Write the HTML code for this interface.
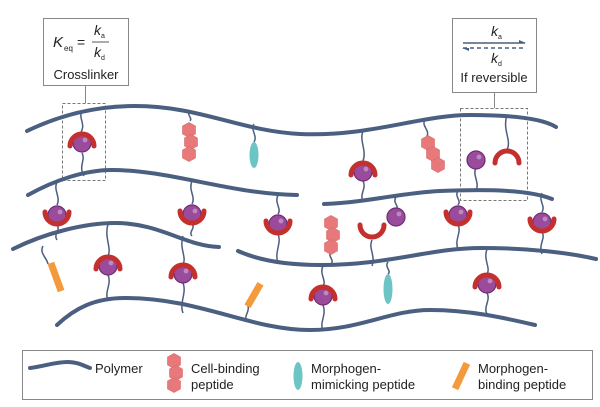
<!DOCTYPE html>
<html><head><meta charset="utf-8"><style>
html,body{margin:0;padding:0;background:#fff;}
svg{display:block;font-family:"Liberation Sans",sans-serif;}
</style></head><body>
<svg width="600" height="407" viewBox="0 0 600 407" xmlns="http://www.w3.org/2000/svg">
<defs>
<g id="ball"><circle r="9" fill="#9a4b9c" stroke="#6e2b72" stroke-width="1.2"/><circle cx="3" cy="-3" r="2.4" fill="#fff" opacity="0.35"/></g>
<path id="capA" d="M-12,3 A12 12 0 0 1 12,3" fill="none" stroke="#c3302e" stroke-width="5" stroke-linecap="round"/>
<path id="capB" d="M-12,-3 A12 12 0 0 0 12,-3" fill="none" stroke="#c3302e" stroke-width="5" stroke-linecap="round"/>
<g id="hex"><polygon points="-6.5,-4 0,-7.5 6.5,-4 6.5,4 0,7.5 -6.5,4" fill="#e8797a" stroke="#d9696a" stroke-width="0.6"/></g>
</defs>

<!-- boxes -->
<rect x="43.5" y="18.5" width="85" height="67" fill="#fff" stroke="#888"/>
<text x="53" y="47" font-size="15" font-style="italic" fill="#222">K</text>
<text x="64" y="51" font-size="8" fill="#222">eq</text>
<text x="77" y="47" font-size="14" fill="#222">=</text>
<text x="94" y="35" font-size="14" font-style="italic" fill="#222">k</text>
<text x="101" y="38" font-size="7" fill="#222">a</text>
<line x1="92" y1="42" x2="109" y2="42" stroke="#222" stroke-width="0.8"/>
<text x="94" y="57" font-size="14" font-style="italic" fill="#222">k</text>
<text x="101" y="60" font-size="7" fill="#222">d</text>
<text x="86" y="79" font-size="13" text-anchor="middle" fill="#222">Crosslinker</text>
<line x1="85.5" y1="86" x2="85.5" y2="103" stroke="#888"/>
<rect x="62.5" y="103.5" width="43" height="77" fill="none" stroke="#777" stroke-dasharray="3,2"/>

<rect x="452.5" y="18.5" width="84" height="74" fill="#fff" stroke="#888"/>
<text x="491" y="36" font-size="14" font-style="italic" fill="#222">k</text>
<text x="498" y="39" font-size="7" fill="#222">a</text>
<line x1="463" y1="43" x2="525" y2="43" stroke="#4b5f80" stroke-width="1.5"/>
<polygon points="526,43 519,40 519,43" fill="#4b5f80"/>
<line x1="463" y1="48" x2="525" y2="48" stroke="#4b5f80" stroke-width="1.5" stroke-dasharray="4,3"/>
<polygon points="462,48 469,51 469,48" fill="#4b5f80"/>
<text x="491" y="63" font-size="14" font-style="italic" fill="#222">k</text>
<text x="498" y="66" font-size="7" fill="#222">d</text>
<text x="494" y="82" font-size="13" text-anchor="middle" fill="#222">If reversible</text>
<line x1="494.5" y1="93" x2="494.5" y2="108" stroke="#888"/>
<rect x="460.5" y="108.5" width="67" height="92" fill="none" stroke="#777" stroke-dasharray="3,2"/>

<!-- wires -->
<g fill="none" stroke="#4b5f80" stroke-width="1.5">
<path d="M82,111 C78,118 86,124 81,132"/><path d="M82,153 C86,160 78,166 84,176"/>
<path d="M190,111 C186,115 193,118 190,121"/>
<path d="M254,124 C250,130 258,136 254,142"/>
<path d="M363,131 C359,141 367,150 363,161"/><path d="M363,181 C367,188 359,194 363,202"/>
<path d="M425,120 C421,126 430,130 427,136"/>
<path d="M476,168 C472,175 480,182 476,191"/>
<path d="M507,115 C502,130 512,140 507,150"/>
<path d="M57,182 C53,190 61,197 57,205"/><path d="M57,225 C61,230 53,234 57,240"/>
<path d="M192,181 C188,190 196,197 192,204"/><path d="M192,224 C196,228 188,232 192,236"/>
<path d="M278,195 C274,203 282,209 278,214"/><path d="M278,234 C282,243 274,252 278,263"/>
<path d="M331,252 C327,256 335,260 331,264"/>
<path d="M372,240 C368,248 376,256 372,266"/>
<path d="M396,197 C392,203 400,206 396,209"/>
<path d="M458,190 C454,198 462,200 458,205"/><path d="M458,225 C462,232 454,240 458,249"/>
<path d="M542,193 C538,201 546,206 542,212"/><path d="M542,232 C546,238 538,245 542,254"/>
<path d="M43,246 C39,253 47,258 48,264"/>
<path d="M108,224 C104,238 112,248 108,256"/><path d="M108,275 C112,284 104,292 108,300"/>
<path d="M183,236 C179,248 187,258 183,264"/><path d="M183,283 C187,293 179,303 183,313"/>
<path d="M247,322 C243,316 250,312 248,306"/>
<path d="M323,266 C319,274 327,281 323,286"/><path d="M323,305 C327,315 319,322 323,331"/>
<path d="M388,262 C384,267 392,271 388,274"/>
<path d="M487,249 C483,260 491,268 487,274"/><path d="M487,293 C491,300 483,307 487,314"/>
</g>

<!-- polymers -->
<g fill="none" stroke="#4b5f80" stroke-width="4" stroke-linecap="round">
<path d="M27,131 C60,115 95,106 135,106 C200,106 240,131 300,134 C370,137 420,115 470,115 C520,115 545,120 556,127"/>
<path d="M28,195 C55,180 85,170 112,170 C170,170 230,194 297,195"/>
<path d="M324,204 C370,202 400,193 440,191 C490,189 530,190 552,199"/>
<path d="M13,249 C45,233 85,223 115,223 C160,223 185,246 219,247"/>
<path d="M238,251 C258,260 285,265 320,265 C390,265 430,248 481,248 C530,248 570,253 596,259"/>
<path d="M57,325 C75,308 95,298 125,298 C200,298 250,330 310,330 C360,330 390,310 430,310 C470,310 505,318 535,325"/>
</g>

<!-- crosslinkers -->
<g transform="translate(82,143)"><use href="#ball"/><use href="#capA"/></g>
<g transform="translate(363,172)"><use href="#ball"/><use href="#capA"/></g>
<g transform="translate(476,160)"><use href="#ball"/></g>
<g transform="translate(507,160)"><use href="#capA"/></g>
<g transform="translate(57,215)"><use href="#ball"/><use href="#capB"/></g>
<g transform="translate(192,214)"><use href="#ball"/><use href="#capB"/></g>
<g transform="translate(278,224)"><use href="#ball"/><use href="#capB"/></g>
<g transform="translate(396,217)"><use href="#ball"/></g>
<g transform="translate(372,228)"><use href="#capB"/></g>
<g transform="translate(458,215)"><use href="#ball"/><use href="#capB"/></g>
<g transform="translate(542,222)"><use href="#ball"/><use href="#capB"/></g>
<g transform="translate(108,266)"><use href="#ball"/><use href="#capA"/></g>
<g transform="translate(183,274)"><use href="#ball"/><use href="#capA"/></g>
<g transform="translate(323,296)"><use href="#ball"/><use href="#capA"/></g>
<g transform="translate(487,284)"><use href="#ball"/><use href="#capA"/></g>

<!-- peptides -->
<use href="#hex" x="189" y="130"/><use href="#hex" x="191" y="142"/><use href="#hex" x="189" y="154"/>
<use href="#hex" x="428" y="143"/><use href="#hex" x="433" y="154"/><use href="#hex" x="438" y="165"/>
<use href="#hex" x="331" y="223"/><use href="#hex" x="333" y="235"/><use href="#hex" x="331" y="247"/>
<ellipse cx="254" cy="155" rx="4.5" ry="13" fill="#6cc5c4"/>
<ellipse cx="388" cy="289" rx="4.5" ry="15" fill="#6cc5c4"/>
<rect x="-3.5" y="-15" width="7" height="30" fill="#f39a3d" transform="translate(56,277) rotate(-20)"/>
<rect x="-3.5" y="-13" width="7" height="26" fill="#f39a3d" transform="translate(254,295) rotate(30)"/>

<!-- legend -->
<rect x="22.5" y="350.5" width="570" height="49" fill="#fff" stroke="#888"/>
<path d="M30,368 C45,366 55,362 68,362 C78,362 84,366 90,368" fill="none" stroke="#4b5f80" stroke-width="4" stroke-linecap="round"/>
<text x="95" y="373" font-size="13" fill="#222">Polymer</text>
<use href="#hex" x="174" y="361"/><use href="#hex" x="176" y="373"/><use href="#hex" x="174" y="385"/>
<text x="191" y="373" font-size="13" fill="#222">Cell-binding</text>
<text x="191" y="389" font-size="13" fill="#222">peptide</text>
<ellipse cx="298" cy="376" rx="4.5" ry="14" fill="#6cc5c4"/>
<text x="311" y="373" font-size="13" fill="#222">Morphogen-</text>
<text x="311" y="389" font-size="13" fill="#222">mimicking peptide</text>
<rect x="-3.5" y="-14" width="7" height="28" fill="#f39a3d" transform="translate(461,376) rotate(25)"/>
<text x="478" y="373" font-size="13" fill="#222">Morphogen-</text>
<text x="478" y="389" font-size="13" fill="#222">binding peptide</text>
</svg>
</body></html>
